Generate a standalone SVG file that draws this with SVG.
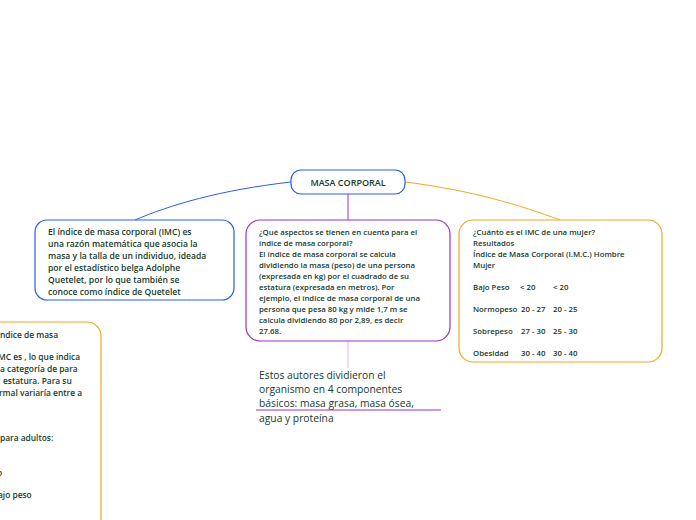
<svg xmlns="http://www.w3.org/2000/svg" width="696" height="520" viewBox="0 0 696 520">
<style>
text{font-family:"Open Sans","Noto Sans",sans-serif;fill:#173a2c;font-weight:600}
.s{font-size:7.8px}.m{font-size:8.6px}
.box{fill:#fff;stroke-width:1.2}
</style>
<rect width="696" height="520" fill="#fff"/>
<g id="connectors" fill="none">
<path d="M291,182 C220,190 170,205 135,220" stroke="#2a5ee8" stroke-width="1"/>
<path d="M348,194 V220" stroke="#9b2fd6" stroke-width="1"/>
<path d="M405,182 C470,190 520,205 560,220" stroke="#f5a623" stroke-width="1"/>
<path d="M348,341 V368" stroke="#d9b3ef" stroke-width="1"/>
</g>
<g id="center">
<rect x="291" y="170" width="114" height="24" rx="10" class="box" stroke="#2a5ee8" fill="#f5f8ff"/>
<text x="348" y="186" text-anchor="middle" style="font-size:9px">MASA CORPORAL</text>
</g>
<g id="left">
<rect x="35" y="220" width="199" height="80" rx="12" class="box" stroke="#2a5ee8"/>
<text class="m"><tspan x="48" y="235">El índice de masa corporal (IMC) es</tspan><tspan x="48" y="247">una razón matemática que asocia la</tspan><tspan x="48" y="259">masa y la talla de un individuo, ideada</tspan><tspan x="48" y="271">por el estadístico belga Adolphe</tspan><tspan x="48" y="283">Quetelet, por lo que también se</tspan><tspan x="48" y="295">conoce como índice de Quetelet</tspan></text>
</g>
<g id="middle">
<rect x="246" y="220" width="204" height="121" rx="14" class="box" stroke="#9b2fd6"/>
<text class="s"><tspan x="259" y="235">¿Qué aspectos se tienen en cuenta para el</tspan><tspan x="259" y="246">índice de masa corporal?</tspan><tspan x="259" y="257">El índice de masa corporal se calcula</tspan><tspan x="259" y="268">dividiendo la masa (peso) de una persona</tspan><tspan x="259" y="279">(expresada en kg) por el cuadrado de su</tspan><tspan x="259" y="290">estatura (expresada en metros). Por</tspan><tspan x="259" y="301">ejemplo, el índice de masa corporal de una</tspan><tspan x="259" y="312">persona que pesa 80 kg y mide 1,7 m se</tspan><tspan x="259" y="323">calcula dividiendo 80 por 2,89, es decir</tspan><tspan x="259" y="334">27.68.</tspan></text>
</g>
<g id="right">
<rect x="459" y="220" width="203" height="142" rx="14" class="box" stroke="#f5a623"/>
<text class="s"><tspan x="473" y="235">¿Cuánto es el IMC de una mujer?</tspan><tspan x="473" y="246">Resultados</tspan><tspan x="473" y="257">Índice de Masa Corporal (I.M.C.) Hombre</tspan><tspan x="473" y="268">Mujer</tspan><tspan x="473" y="290">Bajo Peso</tspan><tspan x="520" y="290">&lt; 20</tspan><tspan x="553" y="290">&lt; 20</tspan><tspan x="473" y="312">Normopeso</tspan><tspan x="521" y="312">20 - 27</tspan><tspan x="553" y="312">20 - 25</tspan><tspan x="473" y="334">Sobrepeso</tspan><tspan x="521" y="334">27 - 30</tspan><tspan x="553" y="334">25 - 30</tspan><tspan x="473" y="356">Obesidad</tspan><tspan x="521" y="356">30 - 40</tspan><tspan x="553" y="356">30 - 40</tspan></text>
</g>
<g id="bottom">
<text style="font-size:10.3px;font-weight:400"><tspan x="259" y="379">Estos autores dividieron el</tspan><tspan x="259" y="393">organismo en 4 componentes</tspan><tspan x="259" y="407">básicos: masa grasa, masa ósea,</tspan><tspan x="259" y="422">agua y proteína</tspan></text>
<path d="M256,410 H441" stroke="#9b2fd6" stroke-width="1.2"/>
</g>
<g id="leftbottom">
<rect x="-120" y="322" width="221" height="230" rx="14" class="box" stroke="#f5a623"/>
<text style="font-size:8.4px"><tspan x="0" y="338">ndice de masa</tspan><tspan x="-2" y="360">MC es , lo que indica</tspan><tspan x="0" y="372">a categoría de para</tspan><tspan x="3" y="384">estatura. Para su</tspan><tspan x="-1" y="396">rmal variaría entre a</tspan><tspan x="0" y="441">para adultos:</tspan><tspan x="-3" y="476">o</tspan><tspan x="-2" y="498">ajo peso</tspan></text>
</g>
</svg>
